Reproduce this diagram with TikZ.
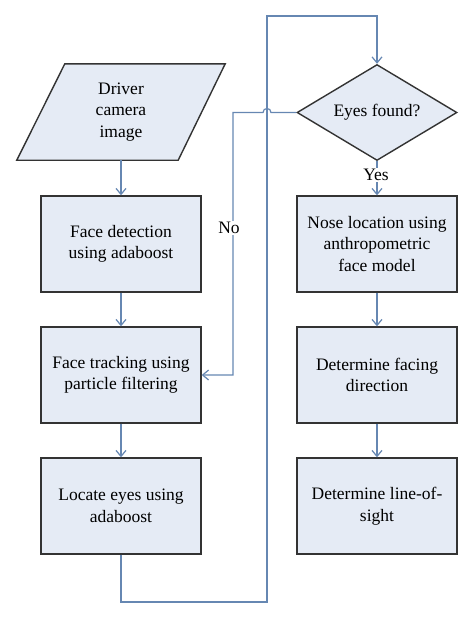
\documentclass[tikz,border=0pt]{standalone}
\usepackage{fontspec}
\setmainfont{Liberation Serif}
\usetikzlibrary{shapes.geometric,arrows.meta,calc}
\definecolor{conn}{HTML}{6687B2}
\definecolor{boxfill}{HTML}{E5EBF5}
\definecolor{boxline}{HTML}{333333}
\tikzset{
  boxnode/.style={draw=boxline, fill=boxfill, line width=1.4pt, minimum width=160pt, minimum height=96pt, inner sep=0pt, align=center, font=\fontsize{17.5}{21.5}\selectfont},
  decnode/.style={diamond, draw=boxline, fill=boxfill, line width=1.4pt, minimum width=160pt, minimum height=96pt, inner sep=0pt, aspect=1.667, align=center, font=\fontsize{17.5}{21.5}\selectfont},
  txtnode/.style={inner sep=0pt, minimum width=160pt, minimum height=96pt, align=center, font=\fontsize{17.5}{21.5}\selectfont},
  connline/.style={draw=conn, line width=1.2pt},
  arr/.style={connline, -{Straight Barb[length=6pt,width=10pt]}},
  lbl/.style={fill=white, inner sep=1pt, font=\fontsize{17.5}{21.5}\selectfont}
}
\begin{document}
\begin{tikzpicture}[x=1pt,y=-1pt]
\useasboundingbox (0,0) rectangle (474,619);
% input parallelogram
\node[txtnode] (img) at (121,112) {Driver\\camera\\image};
\draw[draw=boxline, fill=boxfill, line width=1.4pt]
  ($(img.north west)+(24,0)$) -- ($(img.north east)+(24,0)$) -- ($(img.south east)+(-23,0)$) -- ($(img.south west)+(-24,0)$) -- cycle;
\node[txtnode] at (img.center) {Driver\\camera\\image};
% left column
\node[boxnode] (det) at (121,244) {Face detection\\using adaboost};
\node[boxnode] (trk) at (121,375) {Face tracking using\\particle filtering};
\node[boxnode] (loc) at (121,506) {Locate eyes using\\adaboost};
% right column
\node[decnode] (dec) at (377,112.5) {Eyes found?};
\node[boxnode] (nose) at (377,244) {Nose location using\\anthropometric\\face model};
\node[boxnode] (face) at (377,375) {Determine facing\\direction};
\node[boxnode] (los) at (377,506) {Determine line-of-\\sight};
% routing coordinates
\coordinate (lb) at (267,602);
\coordinate (lt) at (267,16);
\coordinate (nx) at (233,112.5);
% connectors
\draw[arr] (img.south) -- (det.north);
\draw[arr] (det.south) -- (trk.north);
\draw[arr] (trk.south) -- (loc.north);
\draw[arr] (loc.south) |- (lb) -- (lt) -| (dec.north);
\draw[arr] (dec.west) -- ($(dec.west -| lt)+(4,0)$)
  .. controls ($(dec.west -| lt)+(4,-5.33)$) and ($(dec.west -| lt)+(-4,-5.33)$) .. ($(dec.west -| lt)+(-4,0)$)
  -- (nx) |- (trk.east);
\node[lbl] (no) at (229,228) {No};
\draw[arr] (dec.south) -- (nose.north);
\node[lbl] (yes) at (376,175) {Yes};
\draw[arr] (nose.south) -- (face.north);
\draw[arr] (face.south) -- (los.north);
\end{tikzpicture}
\end{document}
